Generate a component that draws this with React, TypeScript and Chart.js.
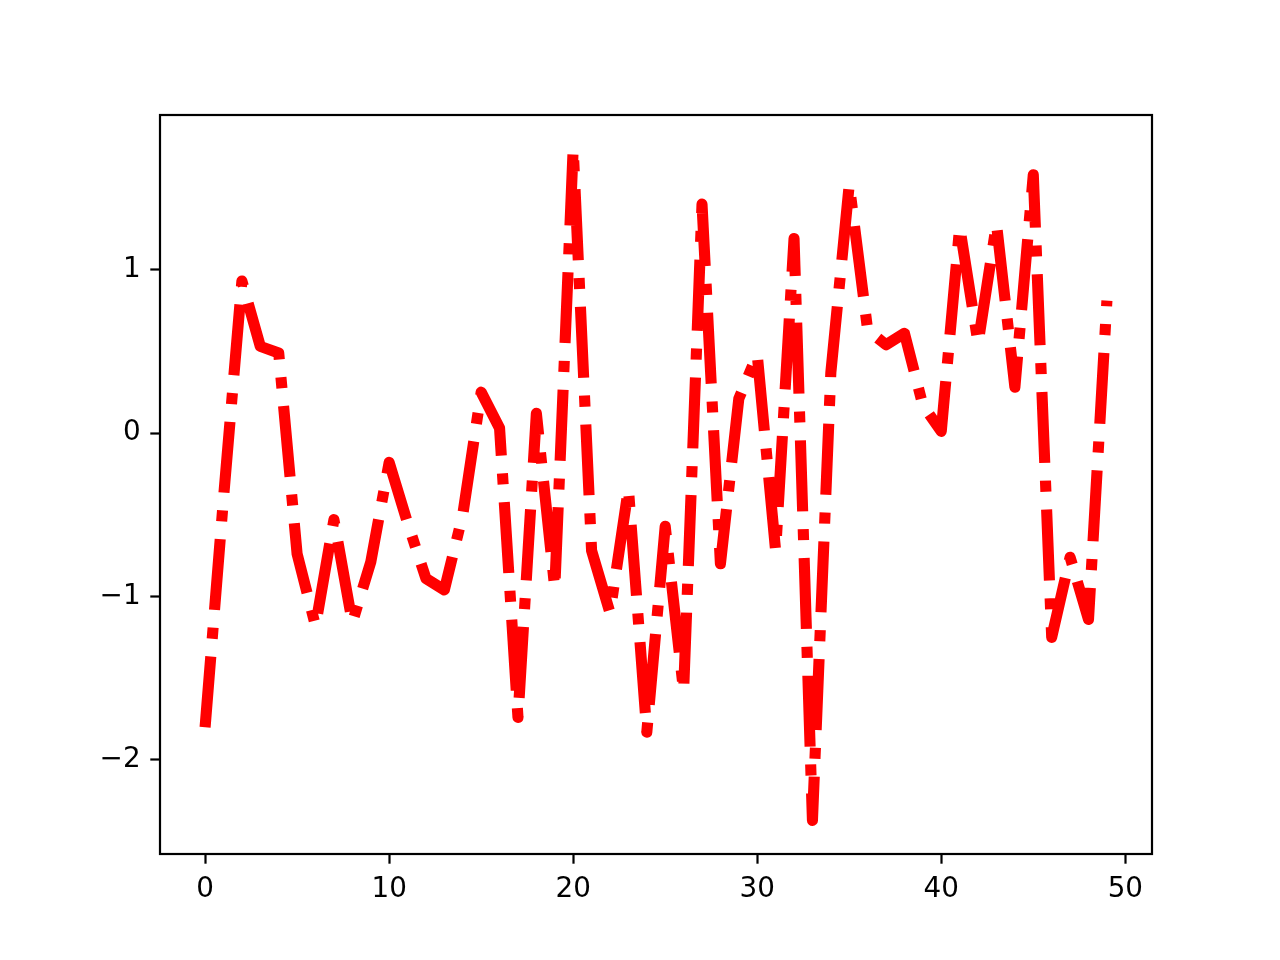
import React, { useEffect, useRef } from "react";
import { Chart, registerables } from "chart.js";

Chart.register(...registerables);

const xValues: number[] = [
  0, 1, 2, 3, 4, 5, 6, 7, 8, 9,
  10, 11, 12, 13, 14, 15, 16, 17, 18, 19,
  20, 21, 22, 23, 24, 25, 26, 27, 28, 29,
  30, 31, 32, 33, 34, 35, 36, 37, 38, 39,
  40, 41, 42, 43, 44, 45, 46, 47, 48, 49,
];

const yValues: number[] = [
  -1.8, -0.4, 0.93, 0.53, 0.49, -0.74, -1.18, -0.53, -1.16, -0.79,
  -0.18, -0.55, -0.89, -0.96, -0.5, 0.25, 0.03, -1.74, 0.12, -0.95,
  1.74, -0.72, -1.1, -0.34, -1.83, -0.57, -1.58, 1.4, -0.8, 0.21,
  0.48, -0.72, 1.19, -2.37, 0.37, 1.52, 0.63, 0.54, 0.61, 0.17,
  0.01, 1.26, 0.55, 1.28, 0.28, 1.58, -1.25, -0.76, -1.14, 0.81,
];

const xTicks: number[] = [0, 10, 20, 30, 40, 50];
const yTicks: number[] = [-2, -1, 0, 1];

const fmt = (v: number) => (v < 0 ? "\u2212" + Math.abs(v) : String(v));

export default function App() {
  const ref = useRef<HTMLCanvasElement | null>(null);

  useEffect(() => {
    document.body.style.margin = "0";
    const canvas = ref.current;
    if (!canvas) return;

    const xMinD = Math.min(...xValues);
    const xMaxD = Math.max(...xValues);
    const yMinD = Math.min(...yValues);
    const yMaxD = Math.max(...yValues);
    const xm = (xMaxD - xMinD) * 0.05;
    const ym = (yMaxD - yMinD) * 0.05;

    const framePlugin = {
      id: "frame",
      afterDatasetsDraw(chart: any) {
        const { ctx, chartArea } = chart;
        ctx.save();
        ctx.strokeStyle = "#000";
        ctx.lineWidth = 2.2;
        ctx.strokeRect(
          chartArea.left,
          chartArea.top,
          chartArea.right - chartArea.left,
          chartArea.bottom - chartArea.top
        );
        ctx.restore();
      },
    };

    const font = { family: "'DejaVu Sans'", size: 27.8 };

    const chart = new Chart(canvas, {
      type: "line",
      data: {
        datasets: [
          {
            data: xValues.map((x, i) => ({ x, y: yValues[i] })),
            borderColor: "#ff0000",
            backgroundColor: "#ff0000",
            borderWidth: 11.1,
            borderDash: [71, 17.8, 11.1, 17.8],
            borderCapStyle: "butt",
            borderJoinStyle: "round",
            pointRadius: 0,
            tension: 0,
            fill: false,
          },
        ],
      },
      plugins: [framePlugin],
      options: {
        animation: false,
        responsive: false,
        devicePixelRatio: 1,
        layout: { padding: { left: 0, top: 115, right: 128, bottom: 0 } },
        plugins: { legend: { display: false }, tooltip: { enabled: false } },
        scales: {
          x: {
            type: "linear",
            min: xMinD - xm,
            max: xMaxD + xm,
            afterBuildTicks: (s: any) => {
              s.ticks = xTicks.map((v) => ({ value: v }));
            },
            afterFit: (s: any) => {
              s.height = 106;
            },
            border: { display: false },
            grid: {
              drawOnChartArea: false,
              drawTicks: true,
              tickLength: 9.7,
              tickColor: "#000",
              tickWidth: 2.2,
            },
            ticks: {
              color: "#000",
              font,
              padding: 9.7,
              maxRotation: 0,
              autoSkip: false,
              callback: (v: any) => fmt(Number(v)),
            },
          },
          y: {
            type: "linear",
            min: yMinD - ym,
            max: yMaxD + ym,
            afterBuildTicks: (s: any) => {
              s.ticks = yTicks.map((v) => ({ value: v }));
            },
            afterFit: (s: any) => {
              s.width = 160;
            },
            border: { display: false },
            grid: {
              drawOnChartArea: false,
              drawTicks: true,
              tickLength: 9.7,
              tickColor: "#000",
              tickWidth: 2.2,
            },
            ticks: {
              color: "#000",
              font,
              padding: 9.7,
              autoSkip: false,
              callback: (v: any) => fmt(Number(v)),
            },
          },
        },
      },
    } as any);

    return () => chart.destroy();
  }, []);

  return (
    <div style={{ width: 1280, height: 960, position: "relative", background: "#fff" }}>
      <canvas ref={ref} width={1280} height={960} style={{ display: "block" }} />
    </div>
  );
}
